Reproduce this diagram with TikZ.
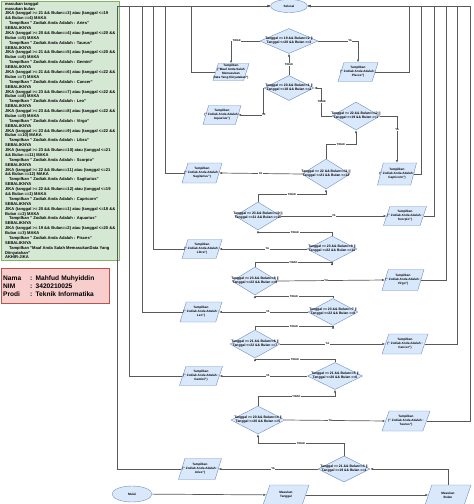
\documentclass[tikz,border=0pt]{standalone}
\usepackage{fontspec}
\setmainfont{Liberation Sans}
\usetikzlibrary{shapes.geometric,arrows.meta}

\definecolor{boxfill}{HTML}{DAE8FC}
\definecolor{boxline}{HTML}{6C8EBF}
\definecolor{notefill}{HTML}{D5E8D4}
\definecolor{noteline}{HTML}{82B366}
\definecolor{namefill}{HTML}{F8CECC}
\definecolor{nameline}{HTML}{B85450}

\begin{document}
\begin{tikzpicture}[
    x=1pt, y=-1pt,
    io/.style={trapezium, trapezium left angle=78, trapezium right angle=102, trapezium stretches=true, draw=boxline, fill=boxfill, inner sep=1pt, minimum height=20pt},
    cond/.style={diamond, draw=boxline, fill=boxfill, inner sep=1pt},
    term/.style={ellipse, draw=boxline, fill=boxfill, inner sep=1pt},
    txt/.style={font=\fontsize{3.1}{4}\selectfont\bfseries, align=center, inner sep=0pt},
    ctxt/.style={font=\fontsize{3.4}{4.2}\selectfont\bfseries, align=center, inner sep=0pt},
    lbl/.style={font=\fontsize{2.7}{3}\selectfont\bfseries, fill=white, inner sep=0.4pt},
    arrow/.style={-{Latex[length=2.8pt,width=2.4pt]}, draw=black!65, line width=0.7pt}
]
\useasboundingbox (0,0) rectangle (474,504);
\clip (0,0) rectangle (474,504);

% catatan pseudocode
\node[rectangle, draw=noteline, fill=notefill, anchor=north west, minimum width=118pt, minimum height=256pt, align=left, inner sep=1pt, font=\fontsize{4.1}{4.88}\selectfont\bfseries] (pseudo) at (1,1) {%
masukan tanggal\\
masukan bulan\\
JIKA (tanggal >= 21 \&\& Bulan==3) atau (tanggal <=19\\
\&\& Bulan ==4) MAKA\\
\hspace*{4pt}Tampilkan " Zodiak Anda Adalah : Aries"\\
SEBALIKNYA\\
JIKA (tanggal >= 20 \&\& Bulan==4) atau (tanggal <=20 \&\&\\
Bulan ==5) MAKA\\
\hspace*{4pt}Tampilkan " Zodiak Anda Adalah : Taurus"\\
SEBALIKNYA\\
JIKA (tanggal >= 21 \&\& Bulan==5) atau (tanggal <=20 \&\&\\
Bulan ==6) MAKA\\
\hspace*{4pt}Tampilkan " Zodiak Anda Adalah : Gemini"\\
SEBALIKNYA\\
JIKA (tanggal >= 21 \&\& Bulan==6) atau (tanggal <=22 \&\&\\
Bulan ==7) MAKA\\
\hspace*{4pt}Tampilkan " Zodiak Anda Adalah : Cancer"\\
SEBALIKNYA\\
JIKA (tanggal >= 23 \&\& Bulan==7) atau (tanggal <=22 \&\&\\
Bulan ==8) MAKA\\
\hspace*{4pt}Tampilkan " Zodiak Anda Adalah : Leo"\\
SEBALIKNYA\\
JIKA (tanggal >= 23 \&\& Bulan==8) atau (tanggal <=22 \&\&\\
Bulan ==9) MAKA\\
\hspace*{4pt}Tampilkan " Zodiak Anda Adalah : Virgo"\\
SEBALIKNYA\\
JIKA (tanggal >= 23 \&\& Bulan==9) atau (tanggal <=22 \&\&\\
Bulan ==10) MAKA\\
\hspace*{4pt}Tampilkan " Zodiak Anda Adalah : Libra"\\
SEBALIKNYA\\
JIKA (tanggal >= 23 \&\& Bulan==10) atau (tanggal <=21\\
\&\& Bulan ==11) MAKA\\
\hspace*{4pt}Tampilkan " Zodiak Anda Adalah : Scorpio"\\
SEBALIKNYA\\
JIKA (tanggal >= 22 \&\& Bulan==11) atau (tanggal <=21\\
\&\& Bulan ==12) MAKA\\
\hspace*{4pt}Tampilkan " Zodiak Anda Adalah : Sagitarius"\\
SEBALIKNYA\\
JIKA (tanggal >= 22 \&\& Bulan==12) atau (tanggal <=19\\
\&\& Bulan ==1) MAKA\\
\hspace*{4pt}Tampilkan " Zodiak Anda Adalah : Capricorn"\\
SEBALIKNYA\\
JIKA (tanggal >= 20 \&\& Bulan==1) atau (tanggal <=18 \&\&\\
Bulan ==2) MAKA\\
\hspace*{4pt}Tampilkan " Zodiak Anda Adalah : Aquarius"\\
SEBALIKNYA\\
JIKA (tanggal >= 19 \&\& Bulan==2) atau (tanggal <=20 \&\&\\
Bulan ==3) MAKA\\
\hspace*{4pt}Tampilkan " Zodiak Anda Adalah : Pisces"\\
SEBALIKNYA\\
\hspace*{4pt}Tampilkan "Maaf Anda Salah MemasukanData Yang\\
Diinyatakan"\\
AKHIR-JIKA};

% identitas
\node[rectangle, draw=nameline, fill=namefill, anchor=north west, minimum width=108pt, minimum height=35pt, text width=104pt, align=left, inner sep=1pt, font=\fontsize{6.6}{8}\selectfont\bfseries] (identitas) at (1,268) {%
\makebox[27pt][l]{Nama}: Mahfud Muhyiddin\\
\makebox[27pt][l]{NIM}: 3420210025\\
\makebox[27pt][l]{Prodi}: Teknik Informatika};

% terminal
\node[term, minimum width=37pt, minimum height=13pt, label={[txt]center:Selesai}] (selesai) at (289,6) {};
\node[term, minimum width=40pt, minimum height=16pt, label={[txt]center:Mulai}] (mulai) at (132,494) {};

% input
\node[io, minimum width=46pt, label={[txt]center:{Masukan\\Tanggal}}] (tanggal) at (286,495) {};
\node[io, minimum width=46pt, label={[txt]center:{Masukan\\Bulan}}] (bulan) at (448,495) {};

% kondisi
\node[cond, minimum width=58pt, minimum height=25pt, label={[ctxt]center:{Tanggal >= 19 \&\& Bulan==2 ||\\Tanggal <=20 \&\& Bulan ==3}}] (ifpisces) at (289,41) {};
\node[cond, minimum width=50pt, minimum height=25pt, label={[ctxt]center:{Tanggal >= 20 \&\& Bulan==1 ||\\Tanggal <=18 \&\& Bulan ==2}}] (ifaquarius) at (289,88) {};
\node[cond, minimum width=48pt, minimum height=28pt, label={[ctxt]center:{Tanggal >= 22 \&\& Bulan==12 ||\\Tanggal <=19 \&\& Bulan ==1}}] (ifcapricorn) at (356,116) {};
\node[cond, minimum width=48pt, minimum height=30pt, label={[ctxt]center:{Tanggal >= 22 \&\& Bulan==11 ||\\Tanggal <=21 \&\& Bulan ==12}}] (ifsagitarius) at (326,174) {};
\node[cond, minimum width=46pt, minimum height=28pt, label={[ctxt]center:{Tanggal >= 23 \&\& Bulan==10 ||\\Tanggal <=21 \&\& Bulan ==11}}] (ifscorpio) at (258,216) {};
\node[cond, minimum width=50pt, minimum height=26pt, label={[ctxt]center:{Tanggal >= 23 \&\& Bulan==9 ||\\Tanggal <=22 \&\& Bulan ==10}}] (iflibra) at (332,249) {};
\node[cond, minimum width=46pt, minimum height=28pt, label={[ctxt]center:{Tanggal >= 23 \&\& Bulan==8 ||\\Tanggal <=22 \&\& Bulan ==9}}] (ifvirgo) at (255,281) {};
\node[cond, minimum width=50pt, minimum height=27pt, label={[ctxt]center:{Tanggal >= 23 \&\& Bulan==7 ||\\Tanggal <=22 \&\& Bulan ==8}}] (ifleo) at (333,312) {};
\node[cond, minimum width=50pt, minimum height=28pt, label={[ctxt]center:{Tanggal >= 21 \&\& Bulan==6 ||\\Tanggal <=22 \&\& Bulan ==7}}] (ifcancer) at (255,344) {};
\node[cond, minimum width=55pt, minimum height=27pt, label={[ctxt]center:{Tanggal >= 21 \&\& Bulan==5 ||\\Tanggal <=20 \&\& Bulan ==6}}] (ifgemini) at (335,376) {};
\node[cond, minimum width=54pt, minimum height=28pt, label={[ctxt]center:{Tanggal >= 20 \&\& Bulan==4 ||\\Tanggal <=20 \&\& Bulan ==5}}] (iftaurus) at (258,420) {};
\node[cond, minimum width=52pt, minimum height=26pt, label={[ctxt]center:{Tanggal >= 21 \&\& Bulan==3 ||\\Tanggal <=19 \&\& Bulan ==4}}] (ifaries) at (344,469) {};

% output
\node[io, minimum width=36pt, minimum height=17pt, label={[txt]center:{Tampilkan\\("Maaf Anda Salah\\Memasukan\\Data Yang Dinyatakan")}}] (maaf) at (231,72) {};
\node[io, minimum width=40pt, minimum height=19pt, label={[txt]center:{Tampilkan\\(" Zodiak Anda Adalah :\\Pisces")}}] (pisces) at (358,72) {};
\node[io, minimum width=38pt, minimum height=19pt, label={[txt]center:{Tampilkan\\(" Zodiak Anda Adalah :\\Aquarius")}}] (aquarius) at (222,115) {};
\node[io, minimum width=39pt, minimum height=22pt, label={[txt]center:{Tampilkan\\(" Zodiak Anda Adalah :\\Capricorn")}}] (capricorn) at (397,174) {};
\node[io, minimum width=40pt, label={[txt]center:{Tampilkan\\(" Zodiak Anda Adalah :\\Sagitarius")}}] (sagitarius) at (202,173) {};
\node[io, minimum width=43pt, minimum height=19pt, label={[txt]center:{Tampilkan\\(" Zodiak Anda Adalah :\\Scorpio")}}] (scorpio) at (405,216) {};
\node[io, minimum width=40pt, minimum height=19pt, label={[txt]center:{Tampilkan\\(" Zodiak Anda Adalah :\\Libra")}}] (libra) at (202,249) {};
\node[io, minimum width=42pt, minimum height=21pt, label={[txt]center:{Tampilkan\\(" Zodiak Anda Adalah :\\Virgo")}}] (virgo) at (403,280) {};
\node[io, minimum width=42pt, label={[txt]center:{Tampilkan\\(" Zodiak Anda Adalah :\\Leo")}}] (leo) at (201,312) {};
\node[io, minimum width=46pt, label={[txt]center:{Tampilkan\\(" Zodiak Anda Adalah :\\Cancer")}}] (cancer) at (405,344) {};
\node[io, minimum width=43pt, minimum height=19pt, label={[txt]center:{Tampilkan\\(" Zodiak Anda Adalah :\\Gemini")}}] (gemini) at (201,376) {};
\node[io, minimum width=48pt, label={[txt]center:{Tampilkan\\(" Zodiak Anda Adalah :\\Taurus")}}] (taurus) at (406,421) {};
\node[io, minimum width=43pt, minimum height=21pt, label={[txt]center:{Tampilkan\\(" Zodiak Anda Adalah :\\Aries")}}] (aries) at (200,469) {};

% alur masuk
\draw[arrow] (mulai) -- (tanggal);
\draw[arrow] (tanggal) -- (bulan);
\draw[arrow] (bulan.north) |- (ifaries.east);

% cabang TIDAK
\draw[arrow] (ifaries.north) -- ++(0,-12) -| node[lbl, pos=0.25] {TIDAK} (iftaurus.south);
\draw[arrow] (iftaurus.north) -- ++(0,-9) -| node[lbl, pos=0.25] {TIDAK} (ifgemini.south);
\draw[arrow] (ifgemini.north) -- ++(0,-3) -| node[lbl, pos=0.25] {TIDAK} (ifcancer.south);
\draw[arrow] (ifcancer.north) -- ++(0,-3) -| node[lbl, pos=0.25] {TIDAK} (ifleo.south);
\draw[arrow] (ifleo.north) -- ++(0,-2) -| node[lbl, pos=0.25] {TIDAK} (ifvirgo.south);
\draw[arrow] (ifvirgo.north) -- ++(0,-4) -| node[lbl, pos=0.25] {TIDAK} (iflibra.south);
\draw[arrow] (iflibra.north) -- ++(0,-3) -| node[lbl, pos=0.25] {TIDAK} (ifscorpio.south);
\draw[arrow] (ifscorpio.north) -- ++(0,-7) -| node[lbl, pos=0.25] {TIDAK} (ifsagitarius.south);
\draw[arrow] (ifsagitarius.north) -- ++(0,-14) -| node[lbl, pos=0.25] {TIDAK} (ifcapricorn.south);
\draw[arrow] (ifcapricorn.west) -- ++(-10,0) |- node[lbl, pos=0.25] {TIDAK} (ifaquarius.east);
\draw[arrow] (ifaquarius.north) -- node[lbl] {TIDAK} (ifpisces.south);
\draw[arrow] (ifpisces.west) -| node[lbl, pos=0.4] {TIDAK} (maaf.north);

% cabang YA
\draw[arrow] (ifpisces.east) -| node[lbl, pos=0.4] {YA} (pisces.north);
\draw[arrow] (ifaquarius.west) |- node[lbl, pos=0.5] {YA} (aquarius.east);
\draw[arrow] (ifcapricorn.east) -| node[lbl, pos=0.65] {YA} (capricorn.north);
\draw[arrow] (ifsagitarius.west) -- node[lbl] {YA} (sagitarius.east);
\draw[arrow] (ifscorpio.east) -- node[lbl] {YA} (scorpio.west);
\draw[arrow] (iflibra.west) -- node[lbl, pos=0.45] {YA} (libra.east);
\draw[arrow] (ifvirgo.east) -- node[lbl, pos=0.45] {YA} (virgo.west);
\draw[arrow] (ifleo.west) -- node[lbl, pos=0.45] {YA} (leo.east);
\draw[arrow] (ifcancer.east) -- node[lbl, pos=0.45] {YA} (cancer.west);
\draw[arrow] (ifgemini.west) -- node[lbl, pos=0.45] {YA} (gemini.east);
\draw[arrow] (iftaurus.east) -- node[lbl, pos=0.45] {YA} (taurus.west);
\draw[arrow] (ifaries.west) -- node[lbl, pos=0.45] {YA} (aries.east);

% keluaran ke Selesai
\draw[arrow] (maaf.west) -- ++(-24,0) |- (selesai.west);
\draw[arrow] (sagitarius.west) -- ++(-19,0) |- (selesai.west);
\draw[arrow] (libra.west) -- ++(-31,0) |- (selesai.west);
\draw[arrow] (leo.west) -- ++(-41,0) |- (selesai.west);
\draw[arrow] (gemini.west) -- ++(-53,0) |- (selesai.west);
\draw[arrow] (aries.west) -- ++(-64,0) |- (selesai.west);
\draw[arrow] (pisces.east) -- ++(34,0) |- (selesai.east);
\draw[arrow] (capricorn.east) -- ++(7.5,0) |- (selesai.east);
\draw[arrow] (scorpio.east) -- ++(10.5,0) |- (selesai.east);
\draw[arrow] (virgo.east) -- ++(25,0) |- (selesai.east);
\draw[arrow] (cancer.east) -- ++(33,0) |- (selesai.east);
\draw[arrow] (taurus.east) -- ++(44,0) |- (selesai.east);

\end{tikzpicture}
\end{document}
